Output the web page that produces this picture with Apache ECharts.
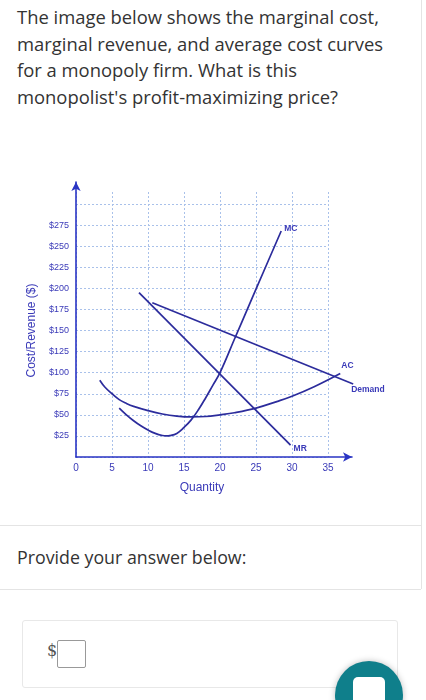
<!DOCTYPE html>
<html>
<head>
<meta charset="utf-8">
<script src="https://cdn.jsdelivr.net/npm/echarts@6/dist/echarts.min.js"></script>
<style>
  html,body{margin:0;padding:0;background:#fff;width:426px;height:700px;overflow:hidden;position:relative;font-family:"Open Sans",sans-serif;}
  .q{position:absolute;left:17px;top:4px;font-size:18.4px;line-height:26.7px;color:#333;white-space:nowrap;}
  .vline{position:absolute;left:421px;top:0;width:1px;height:589px;background:#e4e4e4;}
  .hline{position:absolute;left:0;height:1px;width:421px;background:#e4e4e4;}
  .prov{position:absolute;left:17px;top:544px;font-size:17.8px;line-height:26px;color:#333;}
  .ans{position:absolute;left:22px;top:620px;width:374px;height:66px;border:1px solid #e8e8e8;border-radius:3px;}
  .dol{position:absolute;left:47px;top:641px;font-family:"DejaVu Serif",serif;font-size:16px;color:#555;}
  .box{position:absolute;left:57px;top:640px;width:27px;height:26px;border:1px solid #999;border-radius:2px;background:#fff;}
  .btn{position:absolute;left:335px;top:661px;width:68px;height:68px;border-radius:50%;background:#0f7f8b;box-shadow:0 0 6px rgba(0,0,0,0.25);}
  .btn i{position:absolute;left:18px;top:16px;width:32px;height:40px;background:#fff;border-radius:5px;}
  #chart{position:absolute;left:0;top:160px;width:426px;height:350px;}
</style>
</head>
<body>
<div class="q">The image below shows the marginal cost,<br>marginal revenue, and average cost curves<br>for a monopoly firm. What is this<br>monopolist's profit-maximizing price?</div>
<div id="chart"></div>
<div class="vline"></div>
<div class="hline" style="top:525px"></div>
<div class="hline" style="top:589px"></div>
<div class="prov">Provide your answer below:</div>
<div class="ans"></div>
<div class="dol">$</div>
<div class="box"></div>
<div class="btn"><i></i></div>
<script>
// ---- data ----
const xTicks = [0, 5, 10, 15, 20, 25, 30, 35];
const yTicks = [25, 50, 75, 100, 125, 150, 175, 200, 225, 250, 275];
const mcX = [6, 7, 8, 9, 10, 11, 12, 12.6, 13, 14, 15, 16, 17, 18, 19, 20, 22, 24, 26, 28.5];
const mcY = [58, 50, 43, 37, 32, 28, 25.5, 25, 25.3, 28, 35, 44, 56, 70, 85, 100, 139.6, 179.2, 218.8, 268];
const acX = [3.3, 4, 5, 6, 7, 8, 10, 12, 14, 16, 18, 20, 22, 25, 28, 30, 33, 36.7];
const acY = [91, 83, 75, 68, 63.5, 60, 55, 51, 48.5, 47.5, 48, 50, 52.5, 58, 66, 72, 83, 99];
const demandX = [10.6, 38.5];
const demandY = [183, 86.6];
const mrX = [8.75, 29.8];
const mrY = [195, 14];

const pairs = (xs, ys) => xs.map((x, i) => [x, ys[i]]);

// ---- layout (pixels within chart div) ----
const ox = 76, oy = 297;           // origin
const pxX = 36 / 5, pxY = 253 / 300; // px per unit
const gridXMax = 35, gridYMax = 300;
const axXMax = (352 - ox) / pxX, axYMax = (oy - 22) / pxY;
const vYMax = (oy - 32) / pxY;

const lineCol = '#2c2c9c';
const axisCol = '#2a35c4';
const labCol = '#3a3ab8';
const gridCol = '#a9c1ea';
const lblFont = 'Liberation Sans';

function gridFor(xMax, yMax) {
  return { left: ox, width: xMax * pxX, top: oy - yMax * pxY, height: yMax * pxY, containLabel: false };
}

const chart = echarts.init(document.getElementById('chart'), null, { renderer: 'canvas' });

function lineSeries(name, xs, ys, smooth, label, offset) {
  return {
    type: 'line', name, xAxisIndex: 2, yAxisIndex: 2,
    data: pairs(xs, ys), smooth, showSymbol: false, symbol: 'none',
    lineStyle: { color: lineCol, width: 1.7 }, silent: true, z: 5,
    endLabel: { show: true, formatter: label, color: labCol, fontFamily: lblFont, fontWeight: 'bold', fontSize: 8.5, offset, distance: 0 }
  };
}

chart.setOption({
  animation: false,
  grid: [gridFor(gridXMax, gridYMax), gridFor(gridXMax, vYMax), gridFor(axXMax, axYMax)],
  xAxis: [
    { gridIndex: 0, type: 'value', min: 0, max: gridXMax, interval: 5,
      axisLine: { show: false }, axisTick: { show: false }, splitLine: { show: false },
      axisLabel: { color: labCol, fontFamily: lblFont, fontSize: 10, margin: 6,
        formatter: v => xTicks.includes(v) ? String(v) : '' },
      name: 'Quantity', nameLocation: 'middle', nameGap: 25,
      nameTextStyle: { color: labCol, fontFamily: lblFont, fontSize: 12 } },
    { gridIndex: 1, type: 'value', min: 0, max: gridXMax, interval: 5,
      axisLine: { show: false }, axisTick: { show: false }, axisLabel: { show: false },
      splitLine: { show: true, lineStyle: { color: gridCol, type: [2, 2], width: 1 } } },
    { gridIndex: 2, type: 'value', min: 0, max: axXMax,
      axisLine: { show: true, symbol: ['none', 'arrow'], symbolSize: [7, 9], lineStyle: { color: axisCol, width: 1.6 } },
      axisTick: { show: false }, axisLabel: { show: false }, splitLine: { show: false } }
  ],
  yAxis: [
    { gridIndex: 0, type: 'value', min: 0, max: gridYMax, interval: 25,
      axisLine: { show: false }, axisTick: { show: false },
      splitLine: { show: true, lineStyle: { color: gridCol, type: [2, 2], width: 1 } },
      axisLabel: { color: labCol, fontFamily: lblFont, fontSize: 9, margin: 7,
        formatter: v => yTicks.includes(v) ? '$' + v : '' },
      name: 'Cost/Revenue ($)', nameLocation: 'middle', nameGap: 37,
      nameTextStyle: { color: labCol, fontFamily: lblFont, fontSize: 12 } },
    { gridIndex: 1, type: 'value', min: 0, max: vYMax,
      axisLine: { show: false }, axisTick: { show: false }, axisLabel: { show: false }, splitLine: { show: false } },
    { gridIndex: 2, type: 'value', min: 0, max: axYMax,
      axisLine: { show: true, symbol: ['none', 'arrow'], symbolSize: [7, 9], lineStyle: { color: axisCol, width: 1.6 } },
      axisTick: { show: false }, axisLabel: { show: false }, splitLine: { show: false } }
  ],
  series: [
    lineSeries('MC', mcX, mcY, 0.4, 'MC', [3, -2]),
    lineSeries('AC', acX, acY, 0.4, 'AC', [1, -8]),
    lineSeries('Demand', demandX, demandY, false, 'Demand', [-2, 6]),
    lineSeries('MR', mrX, mrY, false, 'MR', [3, 3])
  ]
});
</script>
</body>
</html>
